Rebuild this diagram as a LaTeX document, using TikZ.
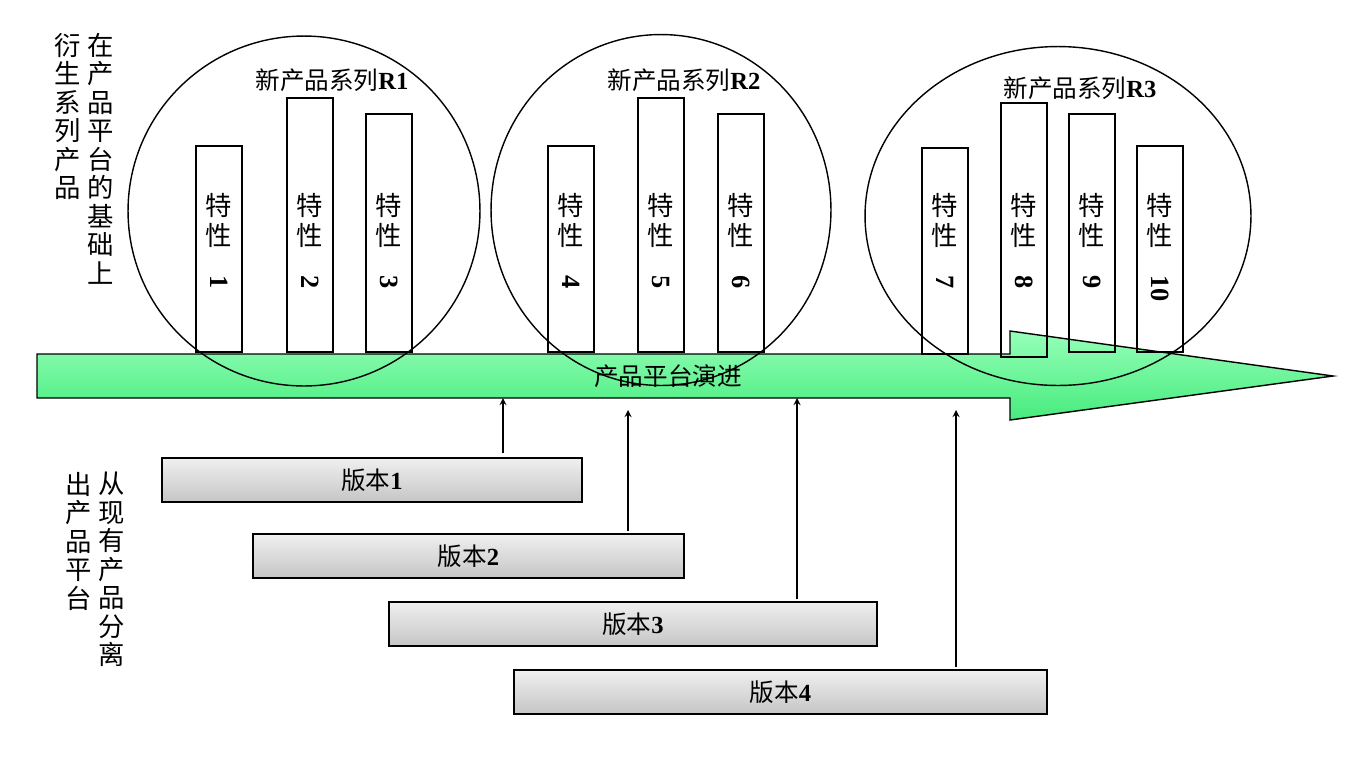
\documentclass[tikz,border=0pt]{standalone}
\usepackage{fontspec}
\setmainfont{Liberation Serif}
\newfontfamily\cjk{Noto Sans CJK SC}
\usetikzlibrary{shapes.geometric}
\definecolor{arrowtop}{RGB}{150,255,185}
\definecolor{arrowbot}{RGB}{70,235,125}
\tikzset{
	bar/.style={draw, thick, minimum width=0.9cm, inner sep=0pt},
	bartxt/.style={align=center, font=\fontsize{15}{17}\selectfont, inner sep=0pt, anchor=north},
	ring/.style={draw, thick, ellipse, inner sep=0pt},
	ver/.style={draw, thick, top color=gray!12, bottom color=gray!45, inner sep=0pt, font=\fontsize{14}{16}\selectfont},
	vtxt/.style={align=center, font=\fontsize{15}{16.2}\selectfont, anchor=north, inner sep=0pt},
	up/.style={-stealth, thick}
}
\newcommand{\tx}[1]{{\cjk #1}}
\newcommand{\feat}[1]{\tx{特}\\\tx{性}\\\rotatebox{-90}{\textbf{#1}}}
\begin{document}
\begin{tikzpicture}[x=0.02cm, y=-0.02cm]
	\useasboundingbox (0,0) rectangle (1356,762);

	% main arrow
	\draw[thick, top color=arrowtop, bottom color=arrowbot] (37,354) -- (1010,354) -- (1010,331) -- (1333,376) -- (1010,420) -- (1010,398) -- (37,398) -- cycle;
	\node[font=\fontsize{14}{16}\selectfont](main) at (668,376) {\tx{产品平台演进}};

	% series circles
	\node[ring, minimum width=7.04cm, minimum height=7cm](c1) at (304,211) {};
	\node[ring, minimum width=6.8cm, minimum height=7.02cm](c2) at (661,210) {};
	\node[ring, minimum width=7.72cm, minimum height=6.78cm](c3) at (1058,216) {};
	\node[font=\fontsize{14}{16}\selectfont](t1) at (332,80) {\tx{新产品系列}\textbf{R1}};
	\node[font=\fontsize{14}{16}\selectfont](t2) at (684,80) {\tx{新产品系列}\textbf{R2}};
	\node[font=\fontsize{14}{16}\selectfont](t3) at (1080,88) {\tx{新产品系列}\textbf{R3}};

	% features
	\foreach \i/\xa/\ya/\yb in {1/196/146/352, 2/287/98/352, 3/366/114/352, 4/548/146/352, 5/638/98/352,
		6/718/114/352, 7/922/148/354, 8/1001/103/357, 9/1069/114/352, 10/1137/146/352}{
		\draw[thick] (\xa,\ya) rectangle ++(46,\yb-\ya) node[pos=0](b\i){};
		\node[bartxt](f\i) at (\xa+23,193) {\feat{\i}};
	}

	% side texts
	\node[vtxt](s1) at (101,33) {\tx{在}\\\tx{产}\\\tx{品}\\\tx{平}\\\tx{台}\\\tx{的}\\\tx{基}\\\tx{础}\\\tx{上}};
	\node[vtxt](s2) at (68,33) {\tx{衍}\\\tx{生}\\\tx{系}\\\tx{列}\\\tx{产}\\\tx{品}};
	\node[vtxt](s3) at (112,472) {\tx{从}\\\tx{现}\\\tx{有}\\\tx{产}\\\tx{品}\\\tx{分}\\\tx{离}};
	\node[vtxt](s4) at (79,472) {\tx{出}\\\tx{产}\\\tx{品}\\\tx{平}\\\tx{台}};

	% versions
	\node[ver, minimum width=8.4cm, minimum height=0.88cm](v1) at (372,480) {\tx{版本}\textbf{1}};
	\node[ver, minimum width=8.62cm, minimum height=0.88cm](v2) at (468.5,556) {\tx{版本}\textbf{2}};
	\node[ver, minimum width=9.76cm, minimum height=0.88cm](v3) at (633,624) {\tx{版本}\textbf{3}};
	\node[ver, minimum width=10.66cm, minimum height=0.88cm](v4) at (780.5,692) {\tx{版本}\textbf{4}};

	\coordinate(a1) at (503,398);
	\coordinate(a2) at (628,410);
	\coordinate(a3) at (797,398);
	\coordinate(a4) at (956,410);
	\draw[up] (v1.north -| a1) ++(0,-4) -- (a1);
	\draw[up] (v2.north -| a2) ++(0,-2) -- (a2);
	\draw[up] (v3.north -| a3) ++(0,-2) -- (a3);
	\draw[up] (v4.north -| a4) ++(0,-2) -- (a4);
\end{tikzpicture}
\end{document}
